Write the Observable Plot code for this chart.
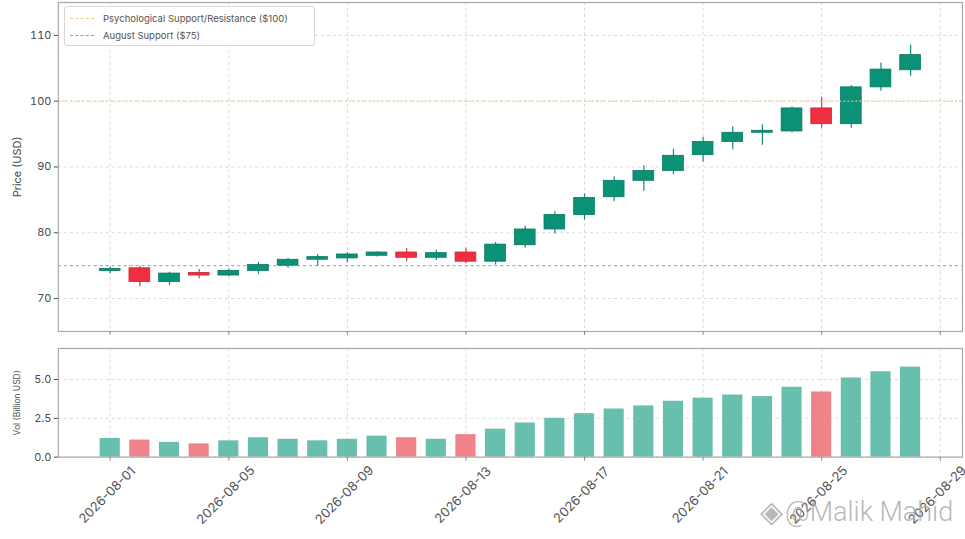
<!DOCTYPE html>
<html>
<head>
<meta charset="utf-8">
<script src="https://cdn.jsdelivr.net/npm/d3@7"></script>
<script src="https://cdn.jsdelivr.net/npm/@observablehq/plot@0.6"></script>
<style>
  html, body { margin: 0; padding: 0; background: #fff; overflow: hidden; width: 965px; height: 539px; }
  #wrap { position: relative; width: 965px; height: 539px; overflow: hidden; font-family: Inter, "Open Sans", sans-serif; }
  #wrap svg { display: block; }
  .legend { position: absolute; left: 64px; top: 6px; width: 251px; height: 40px; border: 1px solid #d8d8d8; border-radius: 3px; background: rgba(255,255,255,0.9); box-sizing: border-box; font-size: 9.5px; color: #555; }
  .legend .row { position: absolute; left: 5px; height: 14px; display: flex; align-items: center; }
  .legend .swatch { width: 24px; height: 0; margin-right: 9px; }
  .wm { position: absolute; left: 760px; top: 496px; font-size: 27px; font-weight: 300; color: rgba(165,165,165,0.8); font-family: Roboto, "Liberation Sans", sans-serif; white-space: nowrap; display: flex; align-items: center; }
  .wm .logo { font-size: 30px; margin-right: 2px; line-height: 1; }
</style>
</head>
<body>
<div id="wrap">
  <div id="topPanel"></div>
  <div id="bottomPanel"></div>
  <div class="legend">
    <div class="row" style="top:4px"><div class="swatch" style="border-top:1px dashed #f7c97c"></div>Psychological Support/Resistance ($100)</div>
    <div class="row" style="top:21px"><div class="swatch" style="border-top:1px dashed #9a9a9a"></div>August Support ($75)</div>
  </div>
  <div class="wm"><span class="logo">◈</span><span>@Malik Mahid</span></div>
</div>
<script>
const dates = ["2026-08-01","2026-08-02","2026-08-03","2026-08-04","2026-08-05","2026-08-06","2026-08-07",
  "2026-08-08","2026-08-09","2026-08-10","2026-08-11","2026-08-12","2026-08-13","2026-08-14",
  "2026-08-15","2026-08-16","2026-08-17","2026-08-18","2026-08-19","2026-08-20","2026-08-21",
  "2026-08-22","2026-08-23","2026-08-24","2026-08-25","2026-08-26","2026-08-27","2026-08-28"];
const open  = [74.2,74.6,72.5,73.9,73.5,74.2,75.0,75.9,76.1,76.5,77.0,76.2,77.0,75.6,78.1,80.5,82.7,85.4,87.9,89.4,91.8,93.8,95.2,95.4,98.9,96.5,102.1,104.7];
const high  = [74.8,74.9,74.0,74.4,74.5,75.5,76.1,76.7,77.0,77.1,77.6,77.4,77.7,78.5,81.0,83.2,85.9,88.5,90.2,92.7,94.5,96.1,96.4,99.1,100.6,102.4,105.8,108.5];
const low   = [73.8,71.8,72.0,73.0,73.3,73.7,74.6,74.9,75.4,76.3,75.6,75.8,75.3,75.1,77.7,79.8,81.9,84.7,86.3,88.8,90.7,92.6,93.3,95.2,95.9,95.9,101.5,103.8];
const close = [74.5,72.5,73.8,73.5,74.2,75.1,75.9,76.3,76.7,77.0,76.2,76.9,75.6,78.2,80.5,82.7,85.3,87.9,89.4,91.7,93.8,95.2,95.5,98.9,96.5,102.1,104.8,107.0];
const volume = [1.2,1.1,0.95,0.85,1.05,1.25,1.15,1.05,1.15,1.35,1.25,1.15,1.45,1.8,2.2,2.5,2.8,3.1,3.3,3.6,3.8,4.0,3.9,4.5,4.2,5.1,5.5,5.8];
const tickLabels = ["2026-08-01","2026-08-05","2026-08-09","2026-08-13","2026-08-17","2026-08-21","2026-08-25","2026-08-29"];
const priceTicks = [70,80,90,100,110];
const volTicks = [0,2.5,5];

const DAY = 864e5;
const parse = s => new Date(s + "T00:00:00Z");
const tickDates = tickLabels.map(parse);
const data = dates.map((d,i) => ({date: parse(d), open: open[i], high: high[i], low: low[i], close: close[i], volume: volume[i], up: close[i] >= open[i]}));
const xDomain = [new Date(parse("2026-07-30").getTime() + 0.25*DAY), new Date(parse("2026-08-29").getTime() + 0.75*DAY)];

const GREEN = "#0b9176", RED = "#ee2f3f";
const VGREEN = "#68bfae", VRED = "#f08289";
const grid = {stroke: "#d0d0d0", strokeOpacity: 1, strokeDasharray: "3,3", strokeWidth: 0.8};
const common = {width: 968, marginLeft: 58, marginRight: 3, style: {fontFamily: "Inter, 'Open Sans', sans-serif", fontSize: "11px", color: "#4a4a4a", background: "transparent"}};

const pricePlot = Plot.plot({
  ...common,
  height: 340, marginTop: 2, marginBottom: 8,
  x: {type: "utc", domain: xDomain},
  y: {domain: [65, 115]},
  marks: [
    Plot.gridX(tickDates, grid),
    Plot.gridY(priceTicks, grid),
    Plot.ruleY([75], {stroke: "#9a9a9a", strokeDasharray: "3,3", strokeWidth: 1}),
    Plot.ruleX(data, {x: "date", y1: "low", y2: "high", stroke: d => d.up ? GREEN : RED, strokeWidth: 1.2}),
    Plot.rect(data, {x1: d => new Date(d.date.getTime() - 0.35*DAY), x2: d => new Date(d.date.getTime() + 0.35*DAY),
      y1: "open", y2: "close", fill: d => d.up ? GREEN : RED, stroke: d => d.up ? "#087a62" : "#c92835", strokeWidth: 0.8}),
    Plot.ruleY([100], {stroke: "#f7c97c", strokeDasharray: "2,2", strokeWidth: 1.2, strokeOpacity: 0.9}),
    Plot.frame({stroke: "#a8a8a8", strokeWidth: 1.2}),
    Plot.axisX(tickDates, {tickSize: 4, tickFormat: () => "", stroke: "#888"}),
    Plot.axisY(priceTicks, {tickSize: 4, tickPadding: 3, label: "Price (USD)", labelArrow: false, labelAnchor: "center", labelOffset: 45, fontSize: 11})
  ]
});

const volPlot = Plot.plot({
  ...common,
  height: 199, marginTop: 9, marginBottom: 81,
  x: {type: "utc", domain: xDomain},
  y: {domain: [0, 7]},
  marks: [
    Plot.gridX(tickDates, grid),
    Plot.gridY(volTicks, grid),
    Plot.rect(data, {x1: d => new Date(d.date.getTime() - 0.34*DAY), x2: d => new Date(d.date.getTime() + 0.34*DAY),
      y1: 0, y2: "volume", fill: d => d.up ? VGREEN : VRED}),
    Plot.frame({stroke: "#a8a8a8", strokeWidth: 1.2}),
    Plot.axisX(tickDates, {tickSize: 4, tickFormat: () => "", stroke: "#888"}),
    Plot.text(tickLabels, {x: d => parse(d), frameAnchor: "bottom", dy: 41, rotate: -45, text: d => d, textAnchor: "middle", fontSize: 13, fill: "#555"}),
    Plot.axisY(volTicks, {tickSize: 4, tickPadding: 3, tickFormat: d => d.toFixed(1), label: "Vol (Billion USD)", labelArrow: false, labelAnchor: "center", labelOffset: 45, fontSize: 11}),
  ]
});

document.getElementById("topPanel").append(pricePlot);
document.getElementById("bottomPanel").append(volPlot);
volPlot.querySelectorAll("text").forEach(t => { if (t.textContent.startsWith("Vol (")) t.style.fontSize = "8.5px"; });
</script>
</body>
</html>
